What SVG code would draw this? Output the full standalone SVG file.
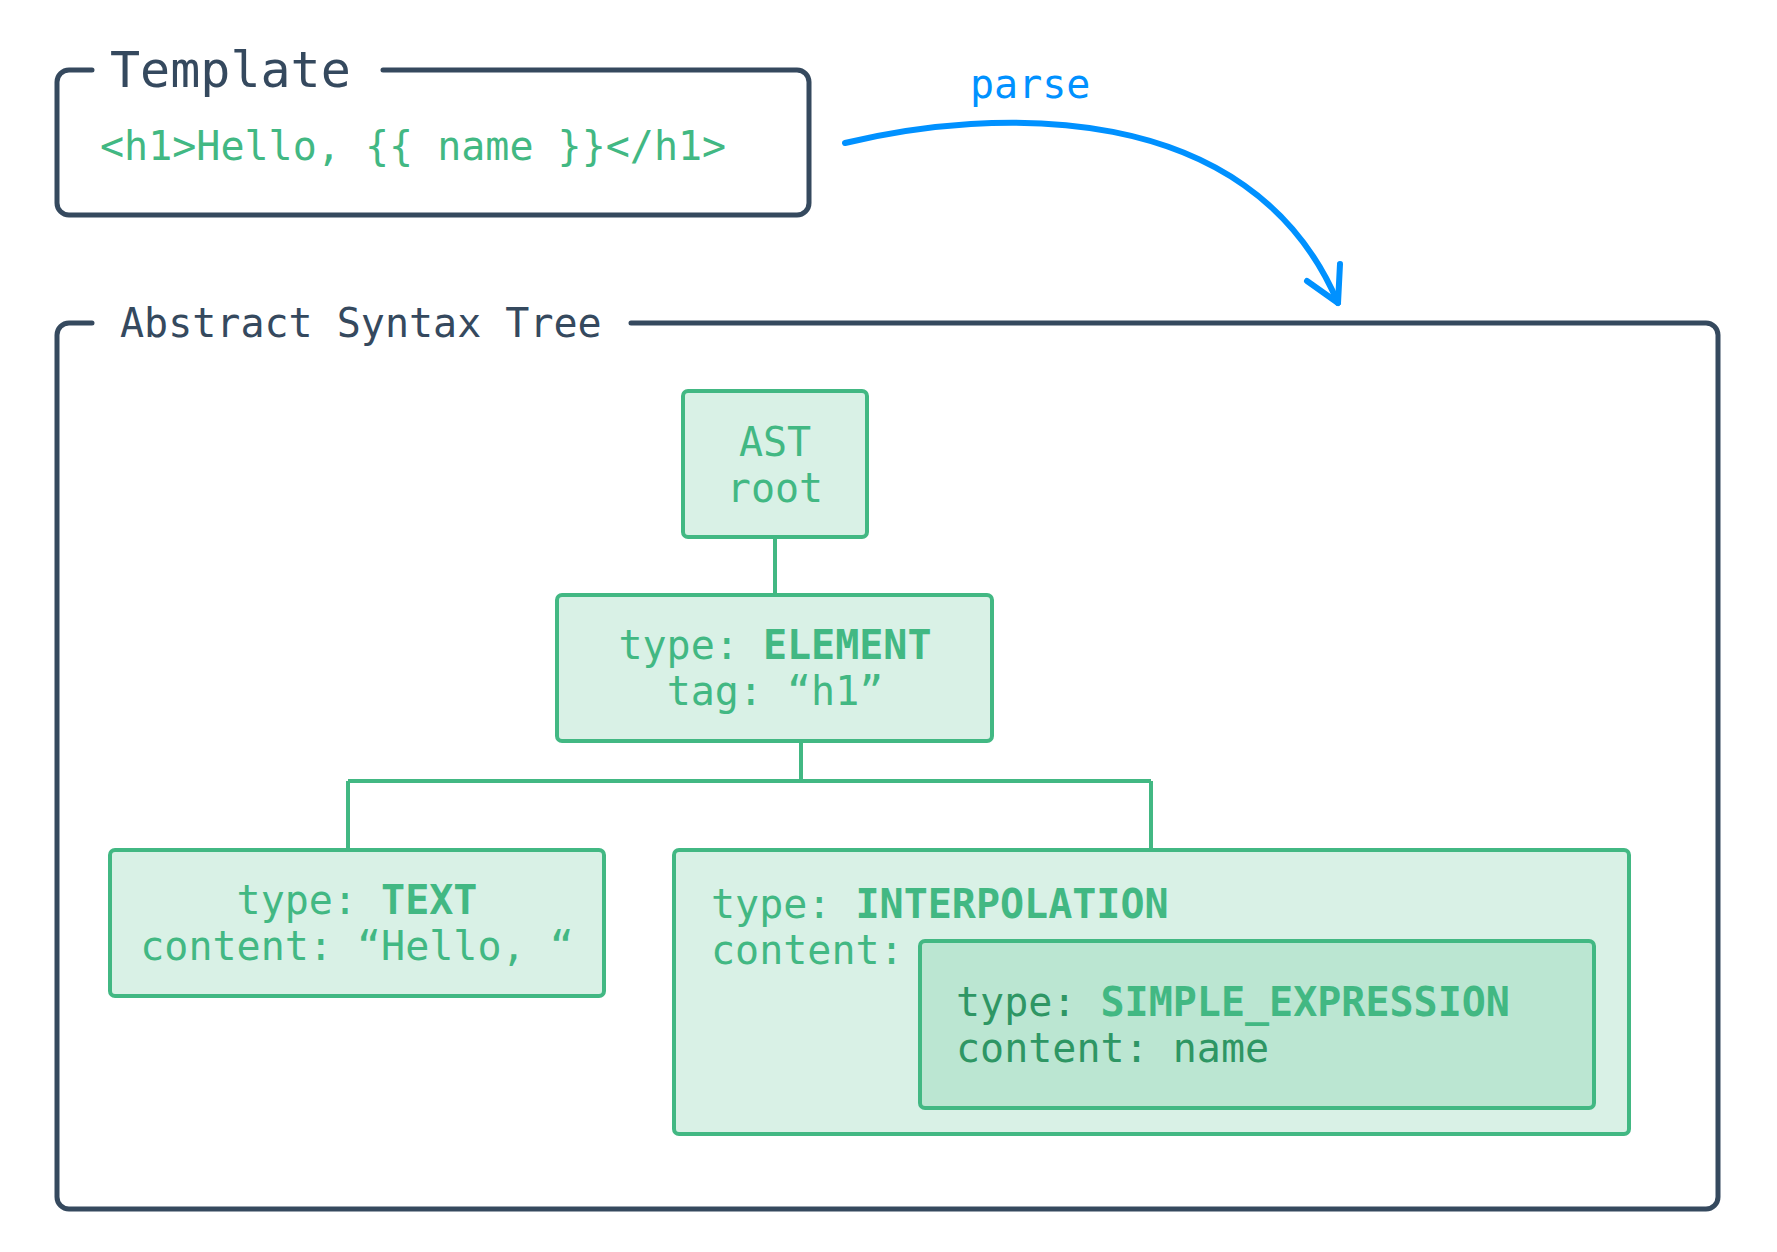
<svg xmlns="http://www.w3.org/2000/svg" width="1777" height="1252" viewBox="0 0 1777 1252">
<style>
.frame{fill:none;stroke:#35495e;stroke-width:5;stroke-linecap:round}
.node{fill:#d9f1e6;stroke:#42b883;stroke-width:4}
.inner{fill:#bbe6d2;stroke:#42b883;stroke-width:4}
.conn{fill:none;stroke:#42b883;stroke-width:4}
.t{font-family:"DejaVu Sans Mono","Liberation Mono",monospace;font-size:40px;fill:#42b883}
.dark{fill:#2e9664}
.b{font-weight:bold;fill:#42b883}
.title{font-family:"DejaVu Sans Mono","Liberation Mono",monospace;fill:#35495e}
.arrow{fill:none;stroke:#0091ff;stroke-width:6;stroke-linecap:round;stroke-linejoin:round}
</style>
<rect width="1777" height="1252" fill="#ffffff"/>
<g id="template">
<path class="frame" d="M383,70 H797 A12,12 0 0 1 809,82 V203 A12,12 0 0 1 797,215 H69 A12,12 0 0 1 57,203 V82 A12,12 0 0 1 69,70 H92"/>
<text class="title" x="110" y="87" font-size="50">Template</text>
<text class="t" x="100" y="160">&lt;h1&gt;Hello, {{ name }}&lt;/h1&gt;</text>
</g>
<g id="parse">
<path class="arrow" d="M845,143 C990,108 1250,95 1338,303"/>
<path class="arrow" d="M1307,281 L1338,303 L1340,264"/>
<text x="970" y="98" font-family="DejaVu Sans Mono,Liberation Mono,monospace" font-size="40" fill="#0091ff">parse</text>
</g>
<g id="ast">
<path class="frame" d="M631,323 H1706 A12,12 0 0 1 1718,335 V1197 A12,12 0 0 1 1706,1209 H69 A12,12 0 0 1 57,1197 V335 A12,12 0 0 1 69,323 H92"/>
<text class="title" x="120" y="337" font-size="40">Abstract Syntax Tree</text>
</g>
<g id="connectors">
<path class="conn" d="M775,537 V595"/>
<path class="conn" d="M801,741 V781"/>
<path class="conn" d="M348,781 H1151"/>
<path class="conn" d="M348,781 V850"/>
<path class="conn" d="M1151,781 V850"/>
</g>
<g id="root">
<rect class="node" x="683" y="391" width="184" height="146" rx="5"/>
<text class="t" x="775" y="456" text-anchor="middle">AST</text>
<text class="t" x="775" y="502" text-anchor="middle">root</text>
</g>
<g id="element">
<rect class="node" x="557" y="595" width="435" height="146" rx="5"/>
<text class="t" x="775" y="659" text-anchor="middle">type: <tspan class="b">ELEMENT</tspan></text>
<text class="t" x="775" y="705" text-anchor="middle">tag: “h1”</text>
</g>
<g id="text-node">
<rect class="node" x="110" y="850" width="494" height="146" rx="5"/>
<text class="t" x="357" y="914" text-anchor="middle">type: <tspan class="b">TEXT</tspan></text>
<text class="t" x="357" y="960" text-anchor="middle">content: “Hello, “</text>
</g>
<g id="interpolation">
<rect class="node" x="674" y="850" width="955" height="284" rx="5"/>
<text class="t" x="711" y="918">type: <tspan class="b">INTERPOLATION</tspan></text>
<text class="t" x="711" y="964">content:</text>
</g>
<g id="simple-expression">
<rect class="inner" x="920" y="941" width="674" height="167" rx="5"/>
<text class="t dark" x="956" y="1016">type: <tspan class="b">SIMPLE_EXPRESSION</tspan></text>
<text class="t dark" x="956" y="1062">content: name</text>
</g>
</svg>
